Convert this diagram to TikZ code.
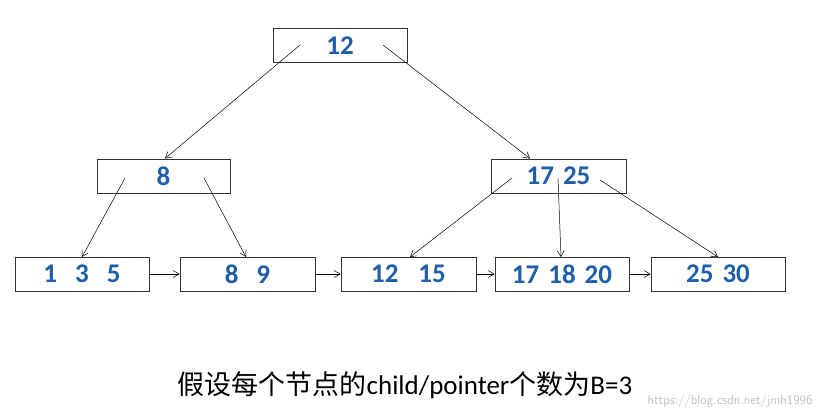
\documentclass[tikz,border=0pt]{standalone}
\usepackage{fontspec}
\setmainfont{Carlito}
\newfontfamily\cjk{Noto Sans CJK SC}
\usetikzlibrary{arrows.meta}
\definecolor{numblue}{HTML}{1F5FA8}
\begin{document}
\begin{tikzpicture}[x=1pt,y=-1pt,
  keybox/.style={draw=black!80,line width=0.8pt,minimum height=34pt,inner sep=0pt,font=\fontsize{27}{28}\selectfont\bfseries,text=numblue},
  link/.style={-{Straight Barb[length=6pt,width=7pt]},line width=0.5pt}]
\useasboundingbox (0,0) rectangle (830,418);
\node[keybox,minimum width=134pt] (r) at (340,45.5) {12};
\node[keybox,minimum width=133pt] (a) at (163.5,176) {8};
\node[keybox,minimum width=135pt] (b) at (558.5,176) {17\,\,25};
\node[keybox,minimum width=134pt] (l1) at (82,274) {1\hspace{18pt}3\hspace{18pt}5};
\node[keybox,minimum width=135pt] (l2) at (247.5,274) {8\hspace{18pt}9};
\node[keybox,minimum width=135pt] (l3) at (408.5,274) {12\hspace{20pt}15};
\node[keybox,minimum width=134pt] (l4) at (562,274) {17\,\,18\,\,20};
\node[keybox,minimum width=134pt] (l5) at (718,274) {25\,\,30};
\coordinate (r1) at (300,45); \coordinate (r2) at (383,45);
\coordinate (a1) at (125,178); \coordinate (a2) at (204,178);
\coordinate (b1) at (512,178); \coordinate (b2) at (558,178); \coordinate (b3) at (600,180);
\draw[link] (r1) -- (165,158.5);
\draw[link] (r2) -- (530,158.5);
\draw[link] (a1) -- (82,257);
\draw[link] (a2) -- (246,257);
\draw[link] (b1) -- (410,257);
\draw[link] (b2) -- (561,257);
\draw[link] (b3) -- (718,257);
\draw[link] (l1.east) -- (l2.west);
\draw[link] (l2.east) -- (l3.west);
\draw[link] (l3.east) -- (l4.west);
\draw[link] (l4.east) -- (l5.west);
\node[font=\fontsize{27}{28}\selectfont] (cap) at (405,385) {{\cjk 假设每个节点的}child/pointer{\cjk 个数为}B=3};
\node[font=\fontsize{13}{14}\selectfont\sffamily,text=black!25] (wm) at (730,401) {https://blog.csdn.net/jmh1996};
\end{tikzpicture}
\end{document}
